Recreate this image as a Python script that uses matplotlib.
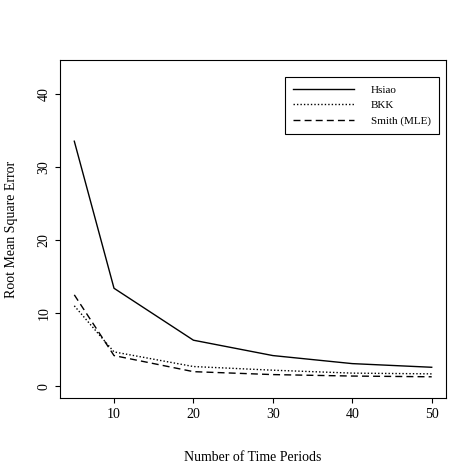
import matplotlib
matplotlib.use("Agg")
import matplotlib.pyplot as plt

periods = [5, 10, 20, 30, 40, 50]
hsiao = [33.5, 13.4, 6.3, 4.2, 3.1, 2.6]
bkk = [11.0, 4.7, 2.7, 2.2, 1.8, 1.7]
smith = [12.5, 4.2, 2.0, 1.6, 1.4, 1.3]

plt.rcParams['font.family'] = ['Liberation Serif']
fig = plt.figure(figsize=(4.74, 4.74), dpi=100)
ax = fig.add_axes([60/474, 76/474, 386/474, 338/474])
ax.plot(periods, hsiao, 'k-', lw=1, label='Hsiao')
ax.plot(periods, bkk, 'k', ls=(0, (1, 1.5)), lw=1, label='BKK')
ax.plot(periods, smith, 'k', ls=(0, (5, 3)), lw=1, label='Smith (MLE)')
ax.set_xlim(3.2, 51.8)
ax.set_ylim(-1.6, 44.6)
ax.set_xticks([10, 20, 30, 40, 50])
ax.set_yticks([0, 10, 20, 30, 40])
ax.tick_params(labelsize=10)
ax.set_yticklabels(['0', '10', '20', '30', '40'], rotation=90, va='center')
ax.set_xlabel('Number of Time Periods', fontsize=10, labelpad=22)
ax.set_ylabel('Root Mean Square Error', fontsize=10, labelpad=14)
leg = ax.legend(loc='upper right', bbox_to_anchor=(0.995, 0.965), fontsize=8,
                fancybox=False, edgecolor='black', framealpha=1, handlelength=5.5,
                borderpad=0.7, handletextpad=1.5)
leg.get_frame().set_linewidth(0.8)
fig.savefig('out.png', dpi=100)
